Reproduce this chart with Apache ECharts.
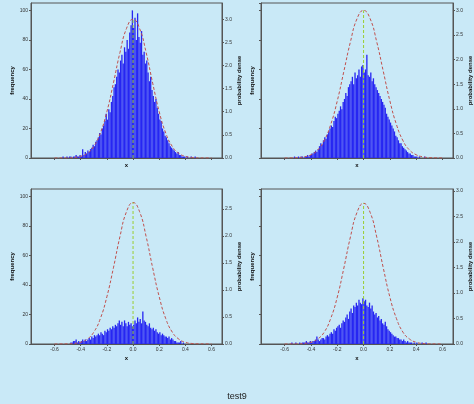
<!DOCTYPE html>
<html>
<head>
<meta charset="utf-8">
<script src="https://cdn.jsdelivr.net/npm/echarts@6/dist/echarts.min.js"></script>
<style>
html, body { margin: 0; padding: 0; background: #c9e9f7; }
#chart { width: 474px; height: 404px; }
</style>
</head>
<body>
<div id="chart"></div>
<script>
// histogram bins: start -0.55, width 0.01
var binStart = -0.55;
var binWidth = 0.01;
var hist1 = [0,1,0,0,1,0,1,1,0,1, 1,2,1,1,2,1,6,2,4,3, 5,4,6,7,9,8,11,12,14,17, 16,20,22,25,30,26,33,31,38,42,
  48,50,55,60,58,66,70,64,75,72, 80,74,85,90,100,88,95,80,98,82, 78,86,70,72,64,66,58,52,55,46,
  42,38,40,34,30,26,25,20,18,15, 14,12,10,8,7,6,5,4,3,4, 2,2,1,1,1,0,1,0,0,1, 0,0,1,0,0];
var hist2 = [0,0,1,0,0,1,0,1,1,0, 1,1,2,1,2,3,3,4,5,4, 6,8,10,9,12,14,13,16,18,20, 22,21,25,28,27,30,32,35,33,38,
  40,44,42,48,50,52,55,50,58,54, 56,60,55,62,63,58,60,70,56,55, 58,52,54,50,48,46,44,42,40,38,
  36,34,30,28,26,24,22,20,18,15, 14,12,10,10,8,7,6,5,4,3, 3,2,2,1,1,1,0,1,0,0, 0,1,0,0,0];
var hist3 = [0,0,0,0,0,0,0,1,1,2, 2,3,1,2,1,2,3,2,3,2, 3,4,3,5,4,6,5,6,7,6, 8,7,6,9,8,10,9,11,10,12,
  11,13,12,14,16,13,15,12,16,14, 12,15,13,14,12,13,16,14,18,15, 17,14,22,16,15,13,12,14,11,10,
  11,9,10,8,7,8,6,7,6,5, 5,4,5,3,4,3,2,2,1,1, 1,2,0,1,0,0,0,0,0,0, 0,0,0,0,0];
var hist4 = [1,0,0,1,0,0,1,0,1,1, 1,2,1,1,2,1,2,2,3,5, 3,2,3,4,4,3,5,6,5,7, 8,7,10,9,11,12,13,11,14,16,
  15,18,20,17,22,24,21,26,25,28, 26,30,28,27,31,29,30,26,25,28, 24,26,22,20,21,18,19,16,17,14,
  13,15,12,10,9,8,7,6,5,5, 4,4,3,3,2,3,2,1,2,1, 1,1,0,1,0,1,0,0,0,1, 0,0,1,0,0];

// density curves sampled at curveX
var curveX = [-0.6,-0.55,-0.5,-0.45,-0.4,-0.35,-0.3,-0.25,-0.2,-0.15,-0.1,-0.05,0,0.05,0.1,0.15,0.2,0.25,0.3,0.35,0.4,0.45,0.5,0.55,0.6];
var pdf1 = [0,0.0003,0.001,0.012,0.037,0.10,0.25,0.54,1.00,1.62,2.28,2.80,3.00,2.80,2.28,1.62,1.00,0.54,0.25,0.10,0.037,0.012,0.001,0.0003,0];
var pdf2 = [0,0.002,0.008,0.024,0.066,0.16,0.35,0.68,1.16,1.76,2.36,2.83,3.00,2.83,2.36,1.76,1.16,0.68,0.35,0.16,0.066,0.024,0.008,0.002,0];
var pdf3 = [0,0.001,0.003,0.01,0.032,0.09,0.22,0.47,0.875,1.41,1.99,2.45,2.62,2.45,1.99,1.41,0.875,0.47,0.22,0.09,0.032,0.01,0.003,0.001,0];
var pdf4 = [0,0.001,0.003,0.011,0.034,0.096,0.23,0.50,0.92,1.49,2.10,2.58,2.76,2.58,2.10,1.49,0.92,0.50,0.23,0.096,0.034,0.011,0.003,0.001,0];
var peaks = [3.00, 3.00, 2.62, 2.76];
var rightMax = [3.35, 3.15, 2.87, 3.04];
var xTicks = [-0.6,-0.4,-0.2,0,0.2,0.4,0.6];

var hists = [hist1, hist2, hist3, hist4];
var pdfs = [pdf1, pdf2, pdf3, pdf4];
var grids = [
  { left: 31, top: 3, width: 191, height: 155 },
  { left: 261, top: 3, width: 192, height: 155 },
  { left: 31, top: 189, width: 191, height: 155 },
  { left: 261, top: 189, width: 192, height: 155 }
];
grids.forEach(function (g) { g.show = true; g.borderColor = '#555'; g.borderWidth = 1; g.backgroundColor = 'transparent'; });

var axisCol = '#555';
var nameStyle = { fontSize: 6, fontWeight: 'bold', color: '#111' };
var xAxes = [], yAxes = [], series = [];

grids.forEach(function (g, i) {
  var bottomRow = i >= 2;
  var leftCol = i % 2 === 0;
  xAxes.push({
    type: 'value', gridIndex: i, min: -0.78, max: 0.68,
    name: 'x', nameLocation: 'middle', nameGap: bottomRow ? 11 : 4, nameTextStyle: nameStyle,
    axisLine: { onZero: false, lineStyle: { color: axisCol } },
    axisTick: { length: 2, customValues: xTicks, lineStyle: { color: axisCol } },
    axisLabel: { show: bottomRow, customValues: xTicks, fontSize: 5, color: '#333', margin: 3,
      formatter: function (v) { return v.toFixed(1); } },
    splitLine: { show: false }
  });
  yAxes.push({
    type: 'value', gridIndex: i, min: 0, max: 105, interval: 20,
    name: 'frequency', nameLocation: 'middle', nameGap: leftCol ? 14 : 6, nameTextStyle: nameStyle,
    axisLine: { show: true, onZero: false, lineStyle: { color: axisCol } },
    axisTick: { show: true, length: 2, lineStyle: { color: axisCol } },
    axisLabel: { show: leftCol, showMaxLabel: false, fontSize: 5, color: '#333', margin: 3 },
    splitLine: { show: false }
  });
  yAxes.push({
    type: 'value', gridIndex: i, position: 'right', min: 0, max: rightMax[i], interval: 0.5,
    name: 'probability dense', nameLocation: 'middle', nameGap: 14, nameTextStyle: nameStyle,
    axisLine: { show: true, onZero: false, lineStyle: { color: axisCol } },
    axisTick: { show: true, length: 2, lineStyle: { color: axisCol } },
    axisLabel: { showMaxLabel: false, fontSize: 5, color: '#333', margin: 3,
      formatter: function (v) { return v.toFixed(1); } },
    splitLine: { show: false }
  });
  var binData = hists[i].map(function (c, k) { return [binStart + k * binWidth, c]; });
  series.push({
    type: 'custom', xAxisIndex: i, yAxisIndex: i * 2, data: binData,
    renderItem: function (params, api) {
      var x0 = api.value(0), h = api.value(1);
      var p0 = api.coord([x0, 0]);
      var p1 = api.coord([x0 + binWidth, h]);
      return { type: 'rect', shape: { x: p0[0], y: p1[1], width: p1[0] - p0[0], height: p0[1] - p1[1] },
        style: { fill: '#2626f2' } };
    },
    silent: true
  });
  series.push({
    type: 'line', xAxisIndex: i, yAxisIndex: i * 2 + 1, smooth: true, symbol: 'none',
    data: curveX.map(function (x, k) { return [x, pdfs[i][k]]; }),
    lineStyle: { color: '#c0504d', width: 1, type: [3, 2] }, silent: true
  });
  series.push({
    type: 'line', xAxisIndex: i, yAxisIndex: i * 2 + 1, symbol: 'none',
    data: [[0, 0], [0, peaks[i]]],
    lineStyle: { color: '#9acd32', width: 1, type: [3, 2] }, silent: true
  });
});

var chart = echarts.init(document.getElementById('chart'));
chart.setOption({
  backgroundColor: '#c9e9f7',
  animation: false,
  title: { text: 'test9', left: 'center', top: 387, textStyle: { fontSize: 9, fontWeight: 'normal', color: '#222' } },
  grid: grids,
  xAxis: xAxes,
  yAxis: yAxes,
  series: series
});
</script>
</body>
</html>
